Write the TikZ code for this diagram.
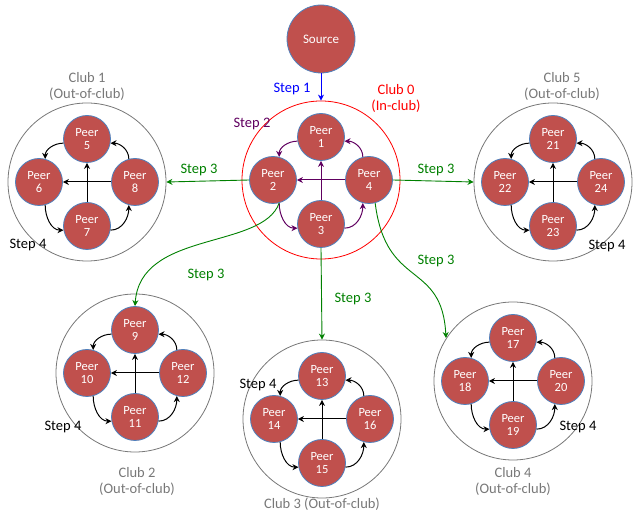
\documentclass[tikz,border=0pt]{standalone}
\usepackage{fontspec}
\setmainfont{Carlito}
\usetikzlibrary{arrows.meta}
\definecolor{peerfill}{RGB}{192,80,77}
\definecolor{peerline}{RGB}{79,129,189}
\definecolor{stepgreen}{RGB}{0,128,0}
\definecolor{steppurple}{RGB}{96,0,96}
\definecolor{clubgray}{RGB}{120,120,120}
\tikzset{
 peer/.style={circle,fill=peerfill,draw=peerline,line width=0.8pt,minimum size=47pt,inner sep=0pt,text=white,align=center,font=\fontsize{12.5}{13.5}\selectfont},
 club/.style={circle,draw=#1,line width=0.8pt,minimum size=158pt,inner sep=0pt},
 lab/.style={font=\fontsize{14.5}{16}\selectfont,align=center},
 arr/.style={-{Stealth[length=6pt,width=6pt]},line width=1pt},
 green arr/.style={-{Stealth[length=6pt,width=6pt]},line width=0.9pt,draw=stepgreen},
}
\newcommand\myclub[9]{%
 \node[club=#9] (c#1) at (#2,#3) {};
 \node[peer] (t#1) at (#2,#3-43) {Peer\\#4};
 \node[peer] (l#1) at (#2-48,#3) {Peer\\#5};
 \node[peer] (r#1) at (#2+48,#3) {Peer\\#6};
 \node[peer] (b#1) at (#2,#3+44) {Peer\\#7};
 \draw[arr,draw=#8] (t#1.190) to[out=180,in=90] (l#1.75);
 \draw[arr,draw=#8] (l#1.-75) to[out=-90,in=180] (b#1.190);
 \draw[arr,draw=#8] (b#1.-10) to[out=0,in=-90] (r#1.-105);
 \draw[arr,draw=#8] (r#1.105) to[out=90,in=0] (t#1.-10);
 \draw[arr,draw=#8] (r#1.west) -- (l#1.east);
 \draw[arr,draw=#8] (b#1.north) -- (t#1.south);
}
\begin{document}
\begin{tikzpicture}[x=1pt,y=-1pt]
\useasboundingbox (0,0) rectangle (638,518);
\myclub{0}{321}{180}{1}{2}{4}{3}{steppurple}{red}
\myclub{1}{87}{182}{5}{6}{8}{7}{black}{clubgray}
\myclub{5}{553}{182}{21}{22}{24}{23}{black}{clubgray}
\myclub{2}{135}{373}{9}{10}{12}{11}{black}{clubgray}
\myclub{3}{322}{419}{13}{14}{16}{15}{black}{clubgray}
\myclub{4}{513}{381}{17}{18}{20}{19}{black}{clubgray}
\node[peer,minimum size=68pt,font=\fontsize{13}{14}\selectfont] (src) at (321,39) {Source};
\draw[arr,draw=blue] (src.south) -- (c0.north);
% labels
\node[lab,text=clubgray] (lc1) at (87,86) {Club 1\\(Out-of-club)};
\node[lab,text=clubgray] (lc5) at (562,86) {Club 5\\(Out-of-club)};
\node[lab,text=clubgray] (lc2) at (137,481) {Club 2\\(Out-of-club)};
\node[lab,text=clubgray] (lc3) at (322,504) {Club 3 (Out-of-club)};
\node[lab,text=clubgray] (lc4) at (513,481) {Club 4\\(Out-of-club)};
\node[lab,text=red] (lc0) at (396,98) {Club 0\\(In-club)};
\node[lab,text=blue] (s1) at (292,89) {Step 1};
\node[lab,text=steppurple] (s2) at (252,124) {Step 2};
% green step 3
\draw[green arr] (l0.west) -- (c1.east);
\draw[green arr] (r0.east) -- (c5.west);
\draw[green arr] (l0.-75) .. controls (262,250) and (140,230) .. (t2.north);
\draw[green arr] (b0.south) -- (c3.north);
\coordinate (e4) at (446,338);
\draw[green arr] (r0.-75) .. controls (386,290) and (442,260) .. (e4);
\node[lab,text=stepgreen] (g1) at (199,170) {Step 3};
\node[lab,text=stepgreen] (g2) at (436,170) {Step 3};
\node[lab,text=stepgreen] (g3) at (206,275) {Step 3};
\node[lab,text=stepgreen] (g4) at (353,299) {Step 3};
\node[lab,text=stepgreen] (g5) at (436,261) {Step 3};
% step 4
\node[lab] (f1) at (28,245) {Step 4};
\node[lab] (f2) at (63,427) {Step 4};
\node[lab] (f3) at (258,385) {Step 4};
\node[lab] (f4) at (578,427) {Step 4};
\node[lab] (f5) at (607,246) {Step 4};
\end{tikzpicture}
\end{document}
